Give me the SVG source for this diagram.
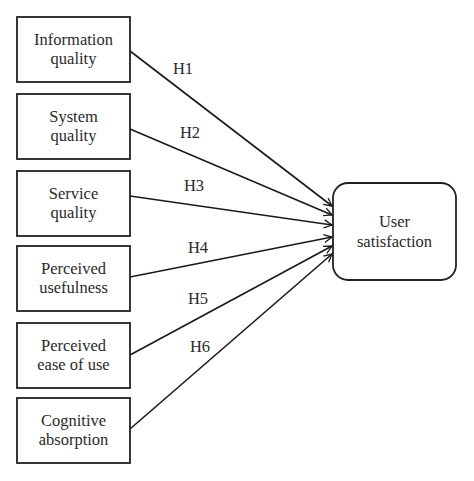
<svg xmlns="http://www.w3.org/2000/svg" width="474" height="481" viewBox="0 0 474 481">
<defs>
<marker id="arr" markerWidth="10" markerHeight="10" refX="9" refY="5" orient="auto" markerUnits="userSpaceOnUse">
<path d="M1,1 L9,5 L1,9" fill="none" stroke="#1a1a1a" stroke-width="1.3"/>
</marker>
<style>
.box{fill:#fff;stroke:#222;stroke-width:1.8}
.t{font-family:"Liberation Serif","Times New Roman",serif;font-size:16.5px;fill:#2a2a2a;text-anchor:middle}
.c line{stroke:#1a1a1a;stroke-width:1.6;marker-end:url(#arr)}
</style>
</defs>
<rect width="474" height="481" fill="#fff"/>
<g id="n1"><rect class="box" x="17" y="17" width="113" height="65"/><text class="t" x="73.5" y="45">Information</text><text class="t" x="73.5" y="64">quality</text></g>
<g id="n2"><rect class="box" x="17" y="94" width="113" height="65"/><text class="t" x="73.5" y="122">System</text><text class="t" x="73.5" y="141">quality</text></g>
<g id="n3"><rect class="box" x="17" y="171" width="113" height="65"/><text class="t" x="73.5" y="199">Service</text><text class="t" x="73.5" y="218">quality</text></g>
<g id="n4"><rect class="box" x="17" y="246" width="113" height="65"/><text class="t" x="73.5" y="274">Perceived</text><text class="t" x="73.5" y="293">usefulness</text></g>
<g id="n5"><rect class="box" x="17" y="323" width="113" height="65"/><text class="t" x="73.5" y="351">Perceived</text><text class="t" x="73.5" y="370">ease of use</text></g>
<g id="n6"><rect class="box" x="17" y="398" width="113" height="65"/><text class="t" x="73.5" y="426">Cognitive</text><text class="t" x="73.5" y="445">absorption</text></g>
<g id="n7"><rect class="box" x="333" y="183" width="123" height="97" rx="15" ry="15"/><text class="t" x="394.5" y="227">User</text><text class="t" x="394.5" y="247">satisfaction</text></g>
<g class="c" id="connectors">
<line x1="130" y1="51" x2="332" y2="206"/>
<line x1="130" y1="129" x2="332" y2="215"/>
<line x1="130" y1="196" x2="332" y2="225"/>
<line x1="130" y1="277" x2="332" y2="237"/>
<line x1="130" y1="355" x2="332" y2="246"/>
<line x1="130" y1="429" x2="332" y2="254"/>
</g>
<g id="labels">
<text class="t" x="183" y="74">H1</text>
<text class="t" x="190" y="138">H2</text>
<text class="t" x="194" y="191">H3</text>
<text class="t" x="198" y="253">H4</text>
<text class="t" x="198" y="304">H5</text>
<text class="t" x="200" y="352">H6</text>
</g>
</svg>
